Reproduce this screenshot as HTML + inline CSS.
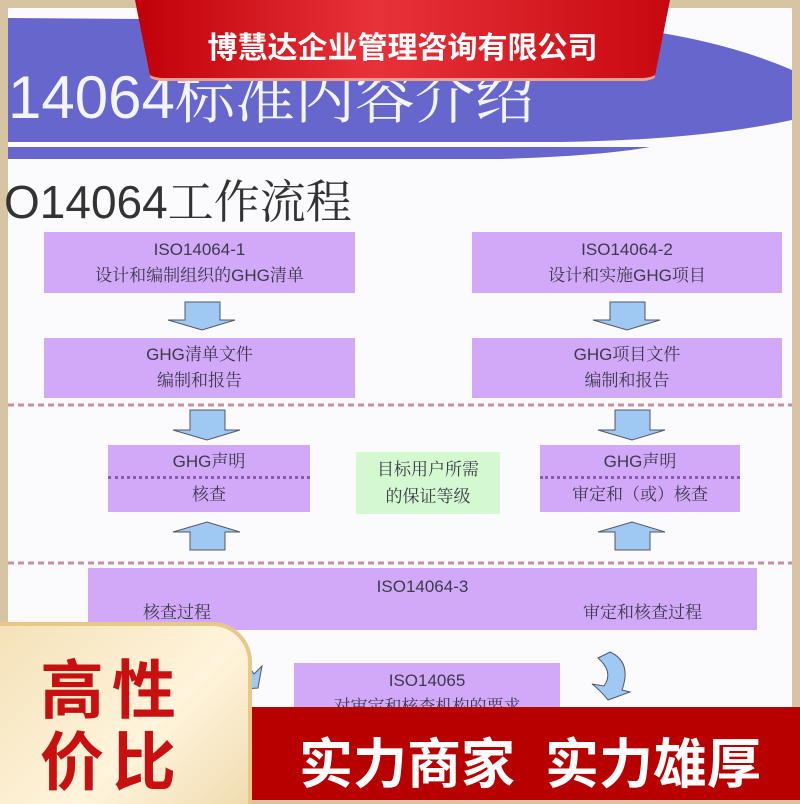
<!DOCTYPE html>
<html><head><meta charset="utf-8"><style>
body{margin:0;width:800px;height:800px;overflow:hidden;background:#d6c4a2;font-family:"Liberation Sans","Noto Sans CJK SC",sans-serif;}
.a{position:absolute}
.box{position:absolute;background:#d2a8f8;color:#3a3a4a;text-align:center;font-size:17px;line-height:26px}
.serif{font-family:"Liberation Serif","Noto Serif CJK SC",serif}
</style></head><body>
<div class="a" style="left:8px;top:8px;width:784px;height:792px;background:#fbfbfd"></div>
<svg class="a" style="left:0;top:0" width="800" height="800">
<path d="M8 18 L560 22 Q700 30 792 70 L792 120 Q700 140 560 142 L8 142 Z" fill="#6666cc"/>
<path d="M8 147 L650 147 Q600 156 500 159 L8 159 Z" fill="#6666cc"/>
<line x1="8" y1="405" x2="792" y2="405" stroke="#c890a0" stroke-width="3" stroke-dasharray="6,4"/>
<line x1="8" y1="563" x2="792" y2="563" stroke="#c890a0" stroke-width="3" stroke-dasharray="6,4"/>
<g fill="#9fc8f2" stroke="#556" stroke-width="1">
<path d="M185 302 H220 V320 H235 L202 330 L168 320 H185 Z"/>
<path d="M610 302 H645 V320 H660 L627 330 L593 320 H610 Z"/>
<path d="M190 410 H225 V430 H240 L207 440 L173 430 H190 Z"/>
<path d="M615 410 H650 V430 H665 L632 440 L598 430 H615 Z"/>
<path d="M190 550 H225 V532 H240 L207 522 L173 532 H190 Z"/>
<path d="M615 550 H650 V532 H665 L632 522 L598 532 H615 Z"/>
<path d="M238 650 L225 660 L242 680 L232 690 L258 688 L262 666 L254 674 Z"/>
<path d="M598 658 L610 652 Q632 662 622 690 L630 692 L608 700 Q600 690 592 684 L604 686 Q614 672 598 658 Z"/>
</g>
</svg>
<div class="a" style="left:8px;top:50px;font-size:60px;color:#f4f4ff;white-space:nowrap">14064<span class="serif">标准内容介绍</span></div>
<div class="a" style="left:4px;top:166px;font-size:46px;color:#333;white-space:nowrap">O14064<span class="serif">工作流程</span></div>
<div class="box" style="left:44px;top:232px;width:311px;height:61px;padding-top:5px;box-sizing:border-box">ISO14064-1<br><span class="serif">设计和编制组织的</span>GHG<span class="serif">清单</span></div>
<div class="box" style="left:472px;top:232px;width:310px;height:61px;padding-top:5px;box-sizing:border-box">ISO14064-2<br><span class="serif">设计和实施</span>GHG<span class="serif">项目</span></div>
<div class="box" style="left:44px;top:338px;width:311px;height:60px;padding-top:4px;box-sizing:border-box">GHG<span class="serif">清单文件</span><br><span class="serif">编制和报告</span></div>
<div class="box" style="left:472px;top:338px;width:310px;height:60px;padding-top:4px;box-sizing:border-box">GHG<span class="serif">项目文件</span><br><span class="serif">编制和报告</span></div>
<div class="box" style="left:108px;top:445px;width:202px;height:67px;line-height:33px">GHG<span class="serif">声明</span><br><span class="serif">核查</span><div class="a" style="left:0;top:31px;width:100%;border-top:3px dotted #8a5ab0"></div></div>
<div class="box" style="left:540px;top:445px;width:200px;height:67px;line-height:33px">GHG<span class="serif">声明</span><br><span class="serif">审定和（或）核查</span><div class="a" style="left:0;top:31px;width:100%;border-top:3px dotted #8a5ab0"></div></div>
<div class="box serif" style="left:356px;top:452px;width:144px;height:62px;background:#d4f8d0;line-height:27px;padding-top:4px;box-sizing:border-box">目标用户所需<br>的保证等级</div>
<div class="box" style="left:88px;top:568px;width:669px;height:62px">
<div style="margin-top:6px">ISO14064-3</div>
<div class="a serif" style="left:55px;top:32px">核查过程</div>
<div class="a serif" style="right:55px;top:32px">审定和核查过程</div></div>
<div class="box" style="left:294px;top:663px;width:266px;height:50px;padding-top:5px;box-sizing:border-box">ISO14065<br><span class="serif">对审定和核查机构的要求</span></div>
<div class="a" style="left:135px;top:0;width:535px;height:78px;background:linear-gradient(90deg,#c00008,#e8323a 45%,#c80810);border-radius:0 0 28px 28px;border-bottom:3px solid #f0a090;clip-path:polygon(0 0,100% 0,97% 100%,3% 100%);"></div>
<div class="a" style="left:135px;top:23px;width:535px;text-align:center;color:#fff;font-size:30px;font-weight:bold">博慧达企业管理咨询有限公司</div>
<div class="a" style="left:240px;top:707px;width:560px;height:93px;background:#b80000"></div>
<div class="a" style="left:250px;top:720px;width:560px;text-align:center;color:#fff;font-size:54px;font-weight:bold;white-space:nowrap">实力商家&nbsp; 实力雄厚</div>
<div class="a" style="left:0;top:622px;width:248px;height:178px;background:linear-gradient(135deg,#f4e2b8,#fff4dc 60%,#f0dcb0);border-radius:0 40px 0 0;border-top:4px solid #e8c888;border-right:4px solid #e8c888"></div>
<div class="a" style="left:40px;top:655px;color:#c81010;font-size:64px;font-weight:bold;line-height:72px;letter-spacing:8px">高性<br>价比</div>
</body></html>
